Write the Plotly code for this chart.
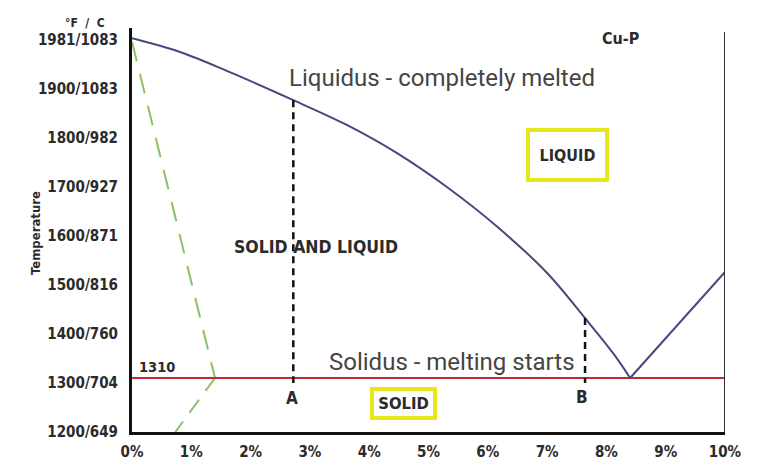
import plotly.graph_objects as go

# ---- data (composition in wt% P, temperature in °F on the chart's scale) ----
liquidus_x = [0.0, 0.81, 1.65, 2.72, 3.63, 4.47, 5.31, 6.16, 7.00, 7.64, 8.11, 8.40]
liquidus_y = [2002, 1974, 1933, 1876, 1825, 1768, 1699, 1618, 1524, 1432, 1361, 1310]
right_liq_x = [8.40, 10.0]
right_liq_y = [1310, 1526]
solidus_x = [0.0, 10.0]
solidus_y = [1310, 1310]
solvus_x = [0.0, 1.40]
solvus_y = [1995, 1310]
solvus_low_x = [1.40, 0.73]
solvus_low_y = [1310, 1200]
line_A_x = [2.72, 2.72]
line_A_y = [1876, 1300]
line_B_x = [7.64, 7.64]
line_B_y = [1432, 1300]

x_tickvals = [0, 1, 2, 3, 4, 5, 6, 7, 8, 9, 10]
x_ticktext = ["0%", "1%", "2%", "3%", "4%", "5%", "6%", "7%", "8%", "9%", "10%"]
y_tickvals = [1200, 1300, 1400, 1500, 1600, 1700, 1800, 1900, 2000]
y_ticktext = ["1200/649", "1300/704", "1400/760", "1500/816", "1600/871",
              "1700/927", "1800/982", "1900/1083", "1981/1083"]

COND = "Liberation Sans Narrow, DejaVu Sans Condensed, Roboto, Arial, sans-serif"
REG = "Roboto, Arial, sans-serif"
DARK = "#2b2b2b"

W, H = 768, 466
L, R, T, B = 132, 43, 28, 34
pw, ph = W - L - R, H - T - B

fig = go.Figure()
fig.add_trace(go.Scatter(x=solvus_x, y=solvus_y, mode="lines",
                         line=dict(color="#8dc066", width=2, dash="20px,13px")))
fig.add_trace(go.Scatter(x=solvus_low_x, y=solvus_low_y, mode="lines",
                         line=dict(color="#8dc066", width=2, dash="16px,11px")))
fig.add_trace(go.Scatter(x=solidus_x, y=solidus_y, mode="lines",
                         line=dict(color="#c42a36", width=2)))
fig.add_trace(go.Scatter(x=liquidus_x, y=liquidus_y, mode="lines",
                         line=dict(color="#48487f", width=2, shape="spline")))
fig.add_trace(go.Scatter(x=right_liq_x, y=right_liq_y, mode="lines",
                         line=dict(color="#48487f", width=2)))
fig.add_trace(go.Scatter(x=line_A_x, y=line_A_y, mode="lines",
                         line=dict(color="#111111", width=2.5, dash="7px,5px")))
fig.add_trace(go.Scatter(x=line_B_x, y=line_B_y, mode="lines",
                         line=dict(color="#111111", width=2.5, dash="7px,5px")))

# right border line
fig.add_shape(type="line", xref="x", yref="paper", x0=10, x1=10, y0=0, y1=0.99,
              line=dict(color="#333333", width=2))

ann = []
def txt(x, y, s, size, family=COND, color=DARK, **kw):
    ann.append(dict(x=x, y=y, xref="x", yref="y", text=s, showarrow=False,
                    xanchor="center", yanchor="middle",
                    font=dict(size=size, family=family, color=color), **kw))

txt(5.23, 1921, "Liquidus - completely melted", 24, family=REG, color="#454545")
txt(5.40, 1343, "Solidus - melting starts", 24, family=REG, color="#454545")
txt(3.10, 1577, "<b>SOLID AND LIQUID</b>", 17.5)
txt(8.23, 2002, "<b>Cu-P</b>", 16)
txt(0.42, 1332, "<b>1310</b>", 14.5)
txt(2.70, 1269, "<b>A</b>", 17)
txt(7.59, 1271, "<b>B</b>", 17)
txt(7.34, 1764, "<b>LIQUID</b>", 16, bordercolor="#e6e619", borderwidth=4,
    width=75, height=46, borderpad=0, bgcolor="white")
txt(4.57, 1259, "<b>SOLID</b>", 16.5, bordercolor="#e6e619", borderwidth=4,
    width=59, height=25, borderpad=0, bgcolor="white")

ann.append(dict(x=(85 - L) / pw, y=1 - (23 - T) / ph, xref="paper", yref="paper",
                text="<b>°F  /  C</b>", showarrow=False, xanchor="center", yanchor="middle",
                font=dict(size=12, family=COND, color=DARK)))
ann.append(dict(x=(35 - L) / pw, y=1 - (233 - T) / ph, xref="paper", yref="paper",
                text="<b>Temperature</b>", textangle=-90, showarrow=False,
                xanchor="center", yanchor="middle",
                font=dict(size=13, family=COND, color=DARK)))

fig.update_layout(
    width=W, height=H, margin=dict(l=L, r=R, t=T, b=B, pad=0, autoexpand=False),
    paper_bgcolor="white", plot_bgcolor="white", showlegend=False,
    annotations=ann,
    xaxis=dict(range=[0, 10], tickvals=x_tickvals, ticktext=x_ticktext,
               showgrid=False, zeroline=False, showline=True, linecolor="#111111",
               linewidth=3, ticks="", ticklabelstandoff=4, automargin=False,
               tickfont=dict(size=15, family=COND, color=DARK, weight="bold")),
    yaxis=dict(range=[1200, 2023], tickvals=y_tickvals, ticktext=y_ticktext,
               showgrid=False, zeroline=False, showline=True, linecolor="#111111",
               linewidth=3, ticks="", ticklabelstandoff=8, automargin=False,
               tickfont=dict(size=15, family=COND, color=DARK, weight="bold")),
)

fig.write_html("out.html")
